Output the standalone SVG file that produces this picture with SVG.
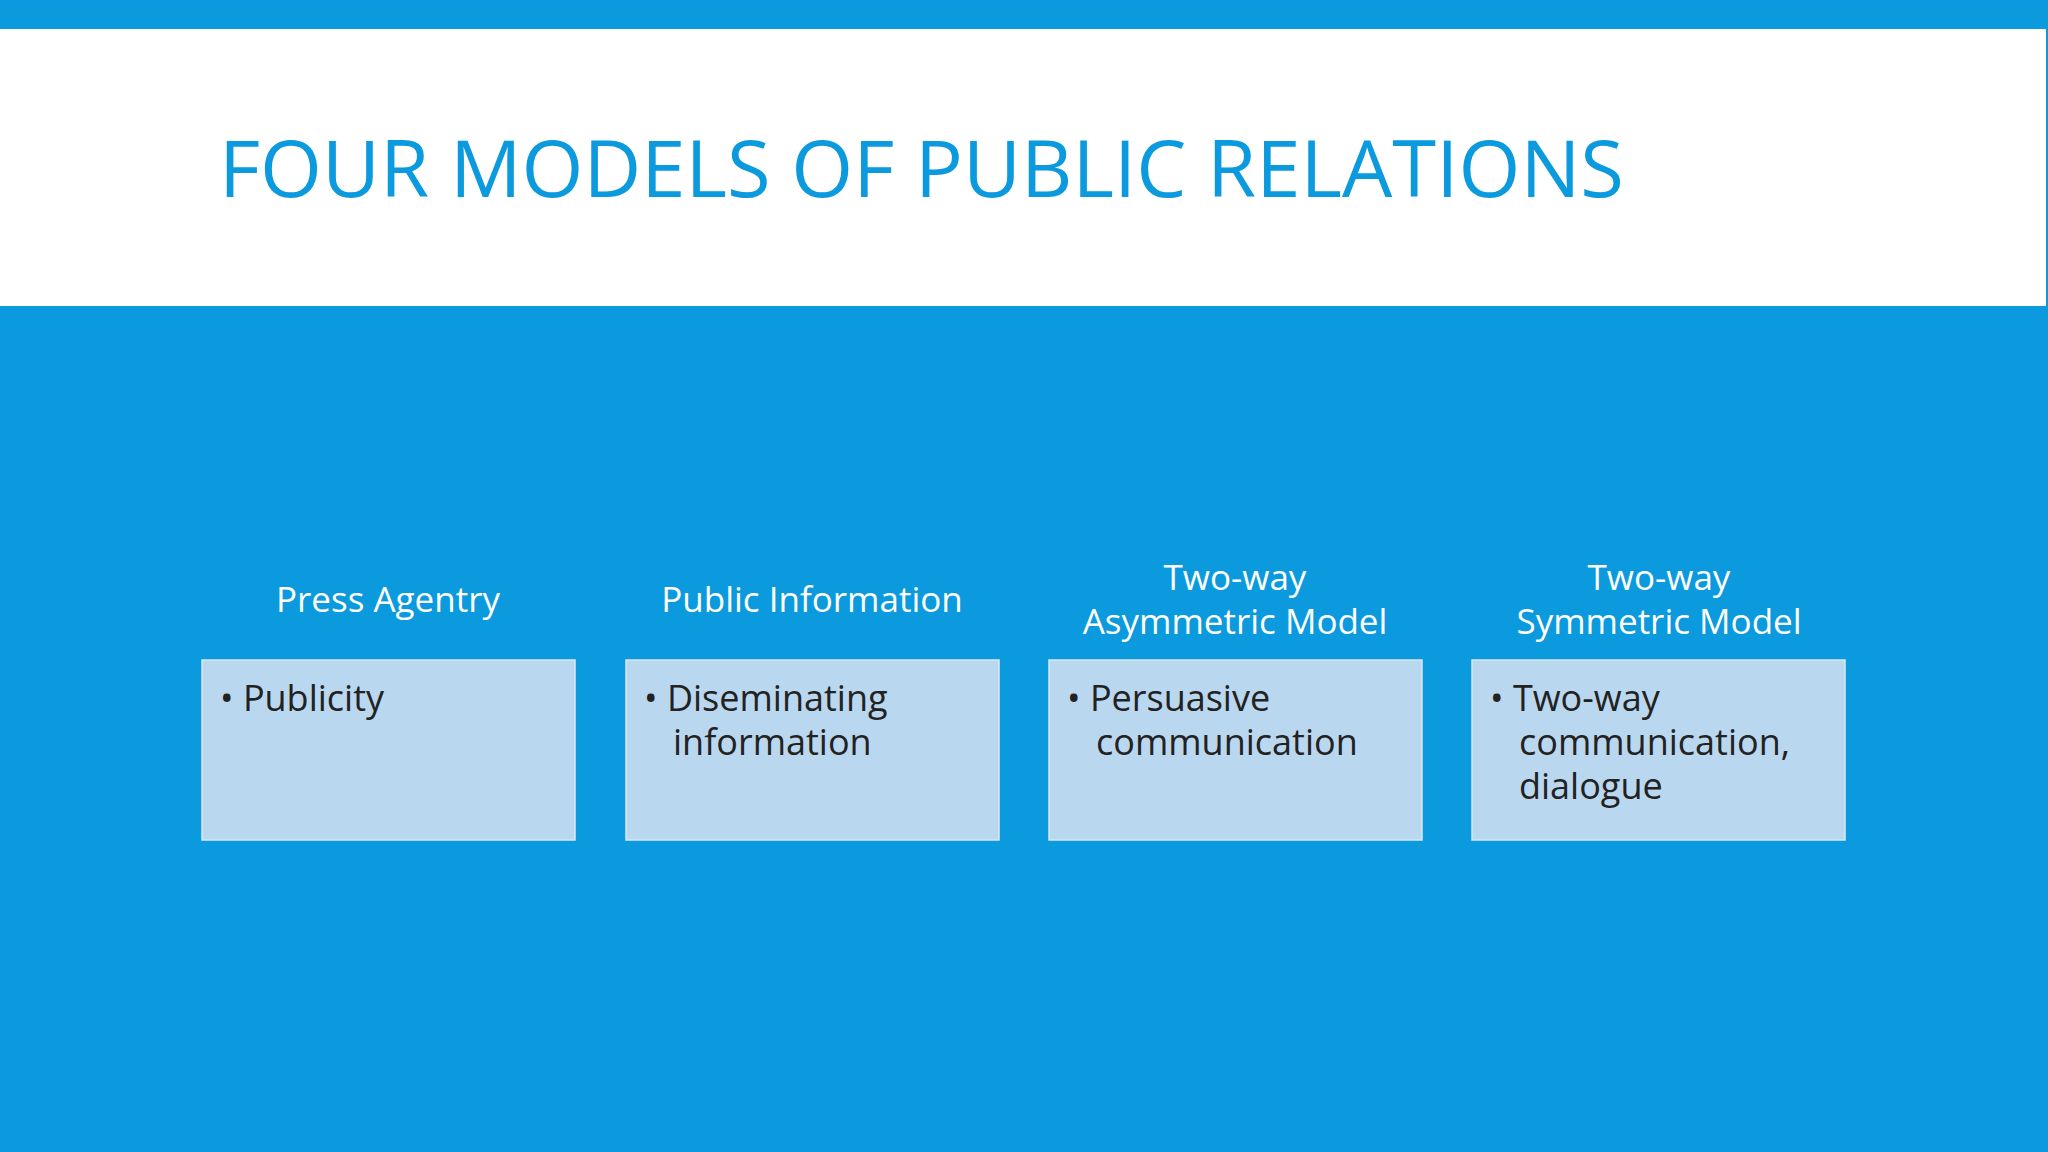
<svg xmlns="http://www.w3.org/2000/svg" width="2048" height="1152" viewBox="0 0 2048 1152">
<style>
.h{font-family:"Open Sans","Liberation Sans",sans-serif;font-size:35px;fill:#fff;text-anchor:middle}
.b{font-family:"Open Sans","Liberation Sans",sans-serif;font-size:36px;fill:#222}
.box{fill:#bad7f0;stroke:#d6e8f7;stroke-width:1.5}
</style>
<rect width="2048" height="1152" fill="#0b9ade"/>
<rect x="0" y="29" width="2046" height="277" fill="#fff"/>
<text x="219" y="197" font-family="Open Sans,Liberation Sans,sans-serif" font-size="78" fill="#0b9ade" textLength="1405" lengthAdjust="spacingAndGlyphs">FOUR MODELS OF PUBLIC RELATIONS</text>
<g id="n1"><text class="h" x="388" y="612">Press Agentry</text><rect class="box" x="202" y="660" width="373" height="180"/><text class="b" x="220" y="711">• Publicity</text></g>
<g id="n2"><text class="h" x="812" y="612">Public Information</text><rect class="box" x="626" y="660" width="373" height="180"/><text class="b" x="644" y="711">• Diseminating</text><text class="b" x="673" y="755">information</text></g>
<g id="n3"><text class="h" x="1235" y="590">Two-way</text><text class="h" x="1235" y="634">Asymmetric Model</text><rect class="box" x="1049" y="660" width="373" height="180"/><text class="b" x="1067" y="711">• Persuasive</text><text class="b" x="1096" y="755">communication</text></g>
<g id="n4"><text class="h" x="1659" y="590">Two-way</text><text class="h" x="1659" y="634">Symmetric Model</text><rect class="box" x="1472" y="660" width="373" height="180"/><text class="b" x="1490" y="711">• Two-way</text><text class="b" x="1519" y="755">communication,</text><text class="b" x="1519" y="799">dialogue</text></g>
<g id="connectors"/>
</svg>
